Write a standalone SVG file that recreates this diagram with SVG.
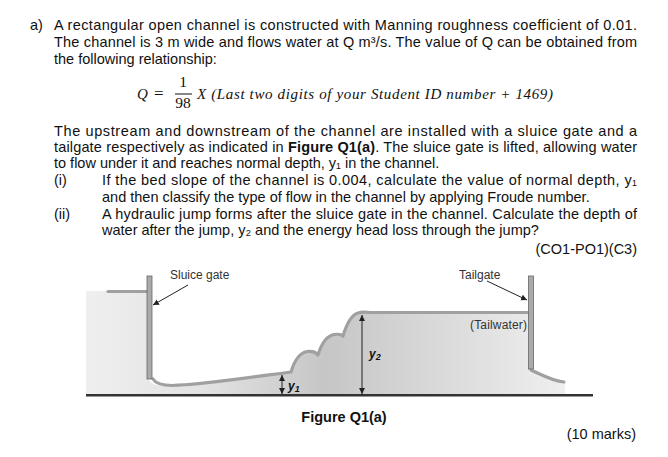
<svg xmlns="http://www.w3.org/2000/svg" width="668" height="457" viewBox="0 0 668 457">
<style>
text{font-family:"Liberation Sans",Arial,sans-serif;font-size:14.500px;fill:#111}
.m{font-family:"Liberation Serif",serif;font-style:italic;font-size:15px}
.u{font-family:"Liberation Serif",serif;font-size:15.500px}
.l{font-size:12px;fill:#333}
.s{fill:none;stroke:#a0a0a0;stroke-width:3.200;stroke-linecap:round;stroke-linejoin:round}
.g{fill:#aaa;stroke:#666;stroke-width:.8}
.d{stroke:#222;stroke-width:1;fill:none}
</style>
<defs>
<linearGradient id="w" x1="0" x2="1" y1="0" y2="0">
<stop offset="0" stop-color="#efefef"/><stop offset=".25" stop-color="#e2e2e2"/><stop offset=".5" stop-color="#c6c6c6"/><stop offset=".72" stop-color="#d8d8d8"/><stop offset="1" stop-color="#efefef"/>
</linearGradient>
<marker id="a" markerWidth="7" markerHeight="7" refX="6" refY="3" orient="auto-start-reverse" markerUnits="userSpaceOnUse"><path d="M0 0L6 3L0 6Z" fill="#222"/></marker>
</defs>
<rect width="668" height="457" fill="#fff"/>
<g id="text-body">
<text x="30" y="30">a)</text>
<text x="54" y="30" textLength="583" lengthAdjust="spacing">A rectangular open channel is constructed with Manning roughness coefficient of 0.01.</text>
<text x="54" y="47" textLength="583" lengthAdjust="spacing">The channel is 3 m wide and flows water at Q m³/s.  The value of Q can be obtained from</text>
<text x="54" y="64">the following relationship:</text>
<text class="m" x="137" y="99">Q</text>
<text class="u" x="154" y="99" font-size="17" style="font-size:17px">=</text>
<text class="u" x="183" y="87" text-anchor="middle">1</text>
<rect x="175" y="93.500" width="17" height="1" fill="#111"/>
<text class="u" x="183" y="108" text-anchor="middle">98</text>
<text class="m" x="197" y="99" textLength="356" lengthAdjust="spacing">X (Last two digits of your Student ID number + 1469)</text>
<text x="54" y="136" textLength="583" lengthAdjust="spacing">The upstream and downstream of the channel are installed with a sluice gate and a</text>
<text x="54" y="152" textLength="583" lengthAdjust="spacing">tailgate respectively as indicated in <tspan font-weight="bold">Figure Q1(a)</tspan>. The sluice gate is lifted, allowing water</text>
<text x="54" y="168">to flow under it and reaches normal depth, y₁ in the channel.</text>
<text x="54" y="185">(i)</text>
<text x="102" y="185" textLength="535" lengthAdjust="spacing">If the bed slope of the channel is 0.004, calculate the value of normal depth, y₁</text>
<text x="102" y="202">and then classify the type of flow in the channel by applying Froude number.</text>
<text x="54" y="219">(ii)</text>
<text x="102" y="219" textLength="535" lengthAdjust="spacing">A hydraulic jump forms after the sluice gate in the channel. Calculate the depth of</text>
<text x="102" y="235">water after the jump, y₂ and the energy head loss through the jump?</text>
<text x="637" y="254" text-anchor="end">(CO1-PO1)(C3)</text>
<text x="636" y="439" text-anchor="end">(10 marks)</text>
<text x="344" y="422" text-anchor="middle" font-weight="bold">Figure Q1(a)</text>
</g>
<g id="water">
<path d="M86 291H148V379L153 384C157 386 165 386 172 385.500L291 372C294 362 299 353 307 351.500C312 351 316 352 318 355C321 345 326 336 334 334.500C338 334 341 334 343 336C346 326 351 315 358 313C361 312 365 312 370 312H530V370C542 375 552 381 565 382V395H86Z" fill="url(#w)"/>
</g>
<g id="surface">
<path class="s" d="M108 291.500H147"/>
<path class="s" d="M153 379C156 384 162 385.500 172 385.500C200 385 260 376 291 372C294 362 299 353 307 351.500C312 351 316 352 318 355C321 345 326 336 334 334.500C338 334 341 334 343 336C346 326 351 315 358 313C361 312 365 312 370 312.500H528"/>
<path class="s" d="M531 370C542 375 552 381 564 382"/>
</g>
<rect id="bed" x="86" y="394" width="507" height="2.500" fill="#333"/>
<g id="sluice-gate">
<rect class="g" x="147" y="276" width="5" height="103"/>
<text class="l" x="170" y="279">Sluice gate</text>
</g>
<g id="tailgate">
<rect class="g" x="528.500" y="276" width="5" height="93"/>
<text class="l" x="459" y="279">Tailgate</text>
<text class="l" x="470" y="329" textLength="57">(Tailwater)</text>
</g>
<g id="connectors">
<path class="d" d="M188 285L153 305" marker-end="url(#a)"/>
<path class="d" d="M487 281L527 300" marker-end="url(#a)"/>
<path class="d" d="M282 375V394" marker-start="url(#a)" marker-end="url(#a)"/>
<path class="d" d="M362 315V394" marker-start="url(#a)" marker-end="url(#a)"/>
</g>
<g id="depth-labels">
<text x="288" y="390" font-weight="bold" font-style="italic" font-size="12" style="font-size:12px">y<tspan style="font-size:9px" dy="2">1</tspan></text>
<text x="369" y="358" font-weight="bold" font-style="italic" style="font-size:12px">y<tspan style="font-size:9px" dy="2">2</tspan></text>
</g>
</svg>
